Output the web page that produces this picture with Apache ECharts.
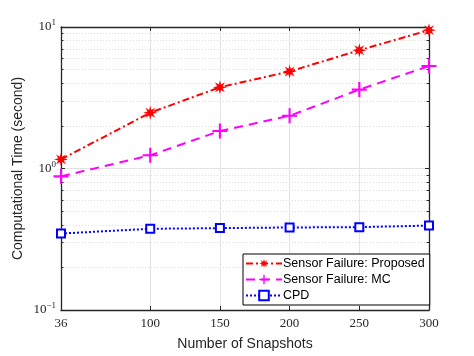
<!DOCTYPE html>
<html><head><meta charset="utf-8">
<script src="https://cdn.jsdelivr.net/npm/echarts@6/dist/echarts.min.js"></script>
<style>html,body{margin:0;padding:0;background:#fff}#c{width:474px;height:356px}</style>
</head><body><div id="c"></div>
<script>
const snapshots = [36, 100, 150, 200, 250, 300];
const proposed = [1.16, 2.48, 3.75, 4.85, 6.85, 9.5];
const mc = [0.88, 1.24, 1.84, 2.36, 3.61, 5.3];
const cpd = [0.347, 0.375, 0.379, 0.383, 0.385, 0.395];
const yMajor = [0.1, 1, 10];
const yMinor = [0.2,0.3,0.4,0.5,0.6,0.7,0.8,0.9,2,3,4,5,6,7,8,9];
const names = ['Sensor Failure: Proposed', 'Sensor Failure: MC', 'CPD'];

const pairs = v => snapshots.map((x, i) => [x, v[i]]);
const axisColor = '#262626';
const starPath = (() => {
  let p = '';
  for (let i = 0; i < 16; i++) {
    const a = Math.PI * i / 8 - Math.PI / 2;
    const r = i % 2 === 0 ? 10 : 4.2;
    p += (i === 0 ? 'M' : 'L') + (10 + r * Math.cos(a)).toFixed(2) + ',' + (10 + r * Math.sin(a)).toFixed(2);
  }
  return 'path://' + p + 'Z';
})();
const plusPath = 'path://M4.3,0L5.7,0L5.7,4.3L10,4.3L10,5.7L5.7,5.7L5.7,10L4.3,10L4.3,5.7L0,5.7L0,4.3L4.3,4.3Z';

const supFmt = v => {
  const e = Math.round(Math.log10(v));
  return '{b|10}{s|' + (e < 0 ? '\u2212' + (-e) : e) + '}';
};
const tickFont = {fontFamily: 'Liberation Serif', fontSize: 13, color: axisColor};

const chart = echarts.init(document.getElementById('c'), null, {renderer: 'canvas'});
chart.setOption({
  animation: false,
  backgroundColor: '#fff',
  grid: {left: 61, top: 27, right: 45, bottom: 42},
  xAxis: [{
    type: 'value', min: 36, max: 300, position: 'bottom',
    name: 'Number of Snapshots', nameLocation: 'middle', nameGap: 27, nameMoveOverlap: false,
    nameTextStyle: {fontFamily: 'Liberation Sans', fontSize: 14, color: axisColor},
    axisLine: {lineStyle: {color: axisColor, width: 1.3}},
    axisTick: {inside: true, length: 4, customValues: snapshots, lineStyle: {color: axisColor}},
    axisLabel: Object.assign({customValues: snapshots, margin: 7}, tickFont),
    splitLine: {show: true, lineStyle: {color: '#e3e3e3', width: 1}}
  }, {
    type: 'value', min: 36, max: 300, position: 'top',
    axisLine: {lineStyle: {color: axisColor, width: 1.3}},
    axisTick: {inside: true, length: 4, customValues: snapshots, lineStyle: {color: axisColor}},
    axisLabel: {show: false}, splitLine: {show: false}
  }],
  yAxis: [{
    type: 'log', logBase: 10, min: 0.1, max: 10, position: 'left',
    name: 'Computational Time (second)', nameLocation: 'middle', nameGap: 36, nameMoveOverlap: false,
    nameTextStyle: {fontFamily: 'Liberation Sans', fontSize: 14, color: axisColor},
    axisLine: {show: true, lineStyle: {color: axisColor, width: 1.3}},
    axisTick: {inside: true, length: 4, lineStyle: {color: axisColor}},
    axisLabel: {formatter: supFmt, margin: 5, rich: {
      b: {fontFamily: 'Liberation Serif', fontSize: 13, color: axisColor},
      s: {fontFamily: 'Liberation Serif', fontSize: 9, color: axisColor, verticalAlign: 'top', padding: [0,0,8,0]}
    }},
    splitLine: {show: true, lineStyle: {color: '#e3e3e3', width: 1}}
  }, {
    type: 'log', logBase: 10, min: 0.1, max: 10, position: 'left',
    axisLine: {show: false},
    axisTick: {inside: true, length: 2.5, customValues: yMinor, lineStyle: {color: axisColor}},
    axisLabel: {show: false},
    splitLine: {show: true, lineStyle: {color: '#dcdcdc', width: 1, type: [1, 2]}}
  }, {
    type: 'log', logBase: 10, min: 0.1, max: 10, position: 'right',
    axisLine: {show: true, lineStyle: {color: axisColor, width: 1.3}},
    axisTick: {inside: true, length: 4, lineStyle: {color: axisColor}},
    axisLabel: {show: false}, splitLine: {show: false}
  }, {
    type: 'log', logBase: 10, min: 0.1, max: 10, position: 'right',
    axisLine: {show: false},
    axisTick: {inside: true, length: 2.5, customValues: yMinor, lineStyle: {color: axisColor}},
    axisLabel: {show: false}, splitLine: {show: false}
  }],
  legend: {
    left: 243, top: 254, orient: 'vertical',
    backgroundColor: '#fff', borderColor: '#000', borderWidth: 1, borderRadius: 0,
    padding: [3, 5, 3, 2], itemGap: 3, itemWidth: 36, itemHeight: 12,
    textStyle: {fontFamily: 'Liberation Sans', fontSize: 12.5, color: '#000', padding: [0,0,0,-4]},
    data: names
  },
  series: [{
    name: names[0], type: 'line', data: pairs(proposed),
    symbol: starPath, symbolSize: 14,
    itemStyle: {color: '#ff0000'},
    lineStyle: {color: '#ff0000', width: 2, type: [7, 3, 2, 3]}
  }, {
    name: names[1], type: 'line', data: pairs(mc),
    symbol: plusPath, symbolSize: 15,
    itemStyle: {color: '#ff00ff'},
    lineStyle: {color: '#ff00ff', width: 2, type: [9, 6]}
  }, {
    name: names[2], type: 'line', data: pairs(cpd),
    symbol: 'rect', symbolSize: 8,
    itemStyle: {color: '#ffffff', borderColor: '#0000ff', borderWidth: 2},
    lineStyle: {color: '#0000ff', width: 2, type: [2, 2]}
  }]
});
</script></body></html>
